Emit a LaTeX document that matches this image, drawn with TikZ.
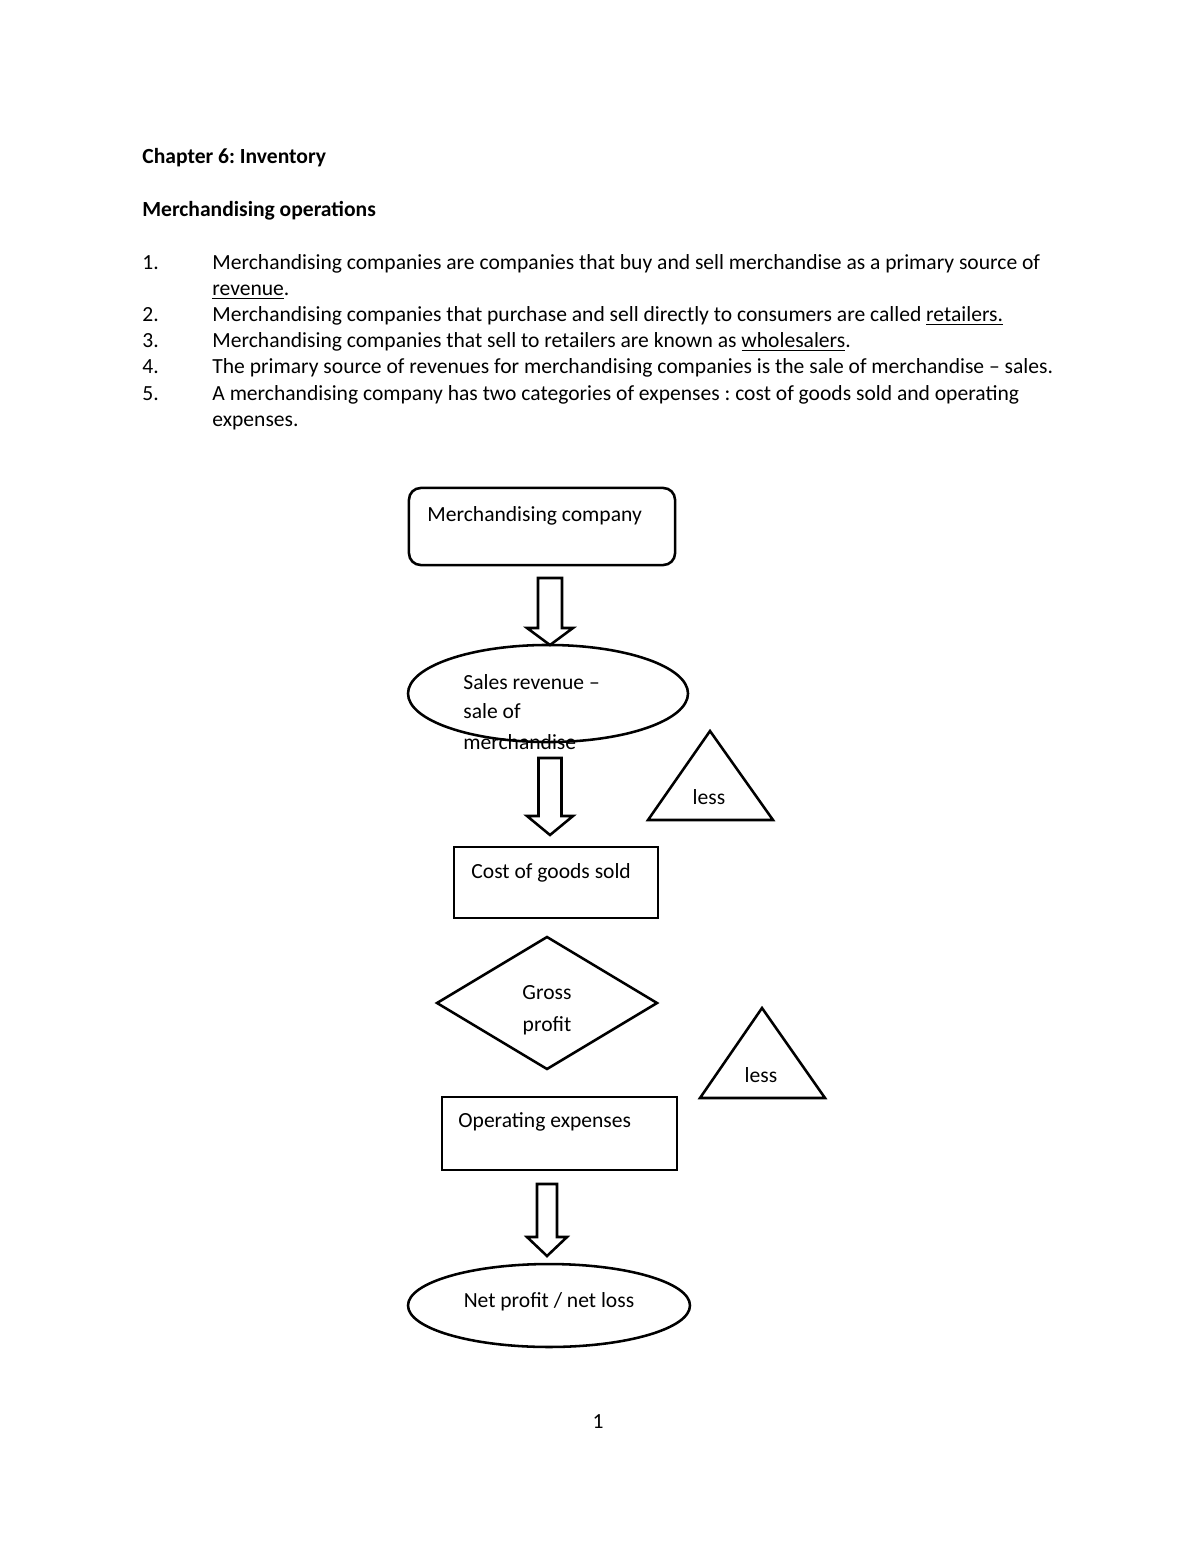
\documentclass[tikz,border=0pt]{standalone}
\usepackage{fontspec}
\setmainfont{Carlito}
\frenchspacing
\usetikzlibrary{calc,shapes.geometric}
\begin{document}
\begin{tikzpicture}[x=0.51pt,y=-0.51pt,
  txt/.style={anchor=base west,inner sep=0pt,yshift=-0.7pt,font=\fontsize{11pt}{13.4pt}\selectfont},
  ctxt/.style={anchor=base,inner sep=0pt,yshift=-0.7pt,font=\fontsize{11pt}{13.4pt}\selectfont},
  shp/.style={draw,line width=1.3pt,inner sep=0pt},
  blk/.style={draw,line width=1.3pt,line join=miter,fill=white}]
\useasboundingbox (0,0) rectangle (1200,1553);
% header text
\node[txt,font=\bfseries\fontsize{11pt}{13.4pt}\selectfont] (title) at (142,162) {Chapter 6: Inventory};
\node[txt,font=\bfseries\fontsize{11pt}{13.4pt}\selectfont] (sub) at (142,215) {Merchandising operations};
\node[txt] (n1) at (142,268) {1.};
\node[txt] (t1) at (212,268) {Merchandising companies are companies that buy and sell merchandise as a primary source of};
\node[txt] (t1b) at (212,294) {\underline{revenue}.};
\node[txt] (n2) at (142,320) {2.};
\node[txt] (t2) at (212,320) {Merchandising companies that purchase and sell directly to consumers are called \underline{retailers.}};
\node[txt] (n3) at (142,346) {3.};
\node[txt] (t3) at (212,346) {Merchandising companies that sell to retailers are known as \underline{wholesalers}.};
\node[txt] (n4) at (142,372) {4.};
\node[txt] (t4) at (212,372) {The primary source of revenues for merchandising companies is the sale of merchandise – sales.};
\node[txt] (n5) at (142,399) {5.};
\node[txt] (t5) at (212,399) {A merchandising company has two categories of expenses : cost of goods sold and operating};
\node[txt] (t5b) at (212,425) {expenses.};
% shapes
\node[shp,rounded corners=6pt,minimum width=135.7pt,minimum height=39.3pt] (mc) at (542,526.5) {};
\node[txt] (mct) at (427,520) {Merchandising company};
\node[shp,ellipse,minimum width=142.8pt,minimum height=49.5pt] (sr) at (548,693.5) {};
\node[txt] (srt1) at (463,688) {Sales revenue –};
\node[txt] (srt2) at (463,717) {sale of};
\node[txt] (srt3) at (463,748) {merchandise};
\node[shp,minimum width=104pt,minimum height=36.2pt] (cg) at (556,882.5) {};
\node[txt] (cgt) at (471,877) {Cost of goods sold};
\coordinate (dT) at (547,937);
\coordinate (dR) at (657,1003);
\coordinate (dB) at (547,1069);
\coordinate (dL) at (437,1003);
\draw[line width=1.3pt,line join=miter] (dT) -- (dR) -- (dB) -- (dL) -- cycle;
\node[ctxt] (gp1) at (547,998) {Gross};
\node[ctxt] (gp2) at (547,1030) {profit};
\node[shp,minimum width=119.9pt,minimum height=37.2pt] (oe) at (559.5,1133.5) {};
\node[txt] (oet) at (458,1126) {Operating expenses};
\node[shp,ellipse,minimum width=143.8pt,minimum height=42.3pt] (np) at (549,1305.5) {};
\node[ctxt] (npt) at (549,1306) {Net profit / net loss};
% triangles
\coordinate (t1A) at (710,731);
\coordinate (t1R) at (773,820);
\coordinate (t1L) at (648,820);
\draw[line width=1.3pt,line join=miter] (t1A) -- (t1R) -- (t1L) -- cycle;
\node[ctxt] (less1) at (709,803) {less};
\coordinate (t2A) at (762,1008);
\coordinate (t2R) at (825,1098);
\coordinate (t2L) at (700,1098);
\draw[line width=1.3pt,line join=miter] (t2A) -- (t2R) -- (t2L) -- cycle;
\node[ctxt] (less2) at (761,1081) {less};
% block arrows
\newcommand{\blkarrow}[6]{% x, ytop, ytip, shaft half, head half, head len
  \draw[blk] ({#1-#4},#2) -- ({#1+#4},#2) -- ({#1+#4},{#3-#6}) -- ({#1+#5},{#3-#6})
    -- (#1,#3) -- ({#1-#5},{#3-#6}) -- ({#1-#4},{#3-#6}) -- cycle;}
\blkarrow{550}{578}{645}{12}{23}{17}
\blkarrow{550}{758}{835}{11.5}{23}{19}
\blkarrow{547}{1184}{1256}{10}{20}{19}
% page number
\node[ctxt] (pg) at (598,1427) {1};
\end{tikzpicture}
\end{document}
